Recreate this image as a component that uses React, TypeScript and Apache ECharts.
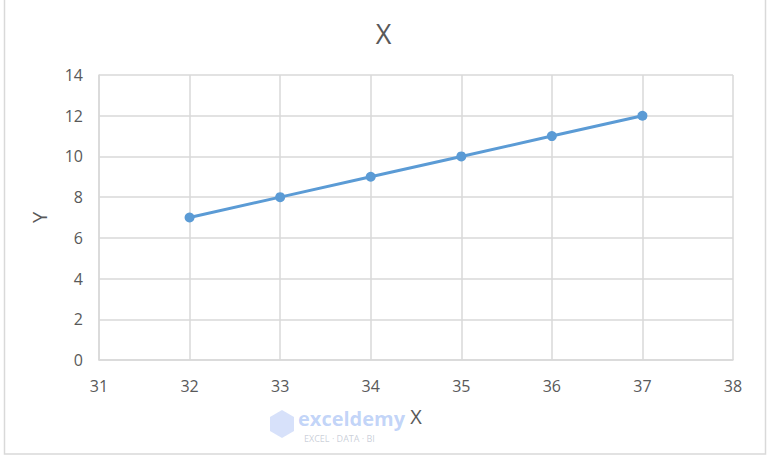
import { useEffect, useRef } from "react";
import * as echarts from "echarts";

const xValues = [32, 33, 34, 35, 36, 37];
const yValues = [7, 8, 9, 10, 11, 12];
const chartTitle = "X";
const xAxisName = "X";
const yAxisName = "Y";

const App = () => {
  const chartRef = useRef<HTMLDivElement>(null);

  useEffect(() => {
    if (!chartRef.current) return;
    const chart = echarts.init(chartRef.current, undefined, { renderer: "svg" });
    const font = "'Open Sans', 'Liberation Sans', sans-serif";

    const option = {
      animation: false,
      backgroundColor: "#ffffff",
      title: {
        text: chartTitle,
        left: "center",
        top: 15,
        textStyle: { color: "#595959", fontSize: 27, fontWeight: "normal", fontFamily: font },
      },
      grid: { left: 99, right: 34, top: 75, bottom: 97 },
      xAxis: {
        type: "value",
        min: 31,
        max: 38,
        interval: 1,
        name: xAxisName,
        nameLocation: "middle",
        nameGap: 46,
        nameTextStyle: { color: "#595959", fontSize: 20, fontFamily: font },
        axisLine: { show: true, lineStyle: { color: "#d9d9d9", width: 1.5 } },
        axisTick: { show: false },
        axisLabel: { color: "#595959", fontSize: 16, fontFamily: font, margin: 18 },
        splitLine: { show: true, lineStyle: { color: "#d9d9d9", width: 1.5 } },
      },
      yAxis: {
        type: "value",
        min: 0,
        max: 14,
        interval: 2,
        name: yAxisName,
        nameLocation: "middle",
        nameGap: 50,
        nameRotate: 90,
        nameTextStyle: { color: "#595959", fontSize: 20, fontFamily: font },
        axisLine: { show: true, lineStyle: { color: "#d9d9d9", width: 1.5 } },
        axisTick: { show: false },
        axisLabel: { color: "#595959", fontSize: 16, fontFamily: font, margin: 16 },
        splitLine: { show: true, lineStyle: { color: "#d9d9d9", width: 1.5 } },
      },
      series: [
        {
          type: "line",
          data: xValues.map((x, i) => [x, yValues[i]]),
          symbol: "circle",
          symbolSize: 10,
          lineStyle: { color: "#5b9bd5", width: 3 },
          itemStyle: { color: "#5b9bd5" },
        },
      ],
      graphic: [
        {
          type: "rect",
          shape: { x: 4.5, y: -2, width: 761, height: 456 },
          style: { fill: "none", stroke: "#d9d9d9", lineWidth: 1.5 },
          silent: true,
        },
        {
          type: "polygon",
          shape: { points: [[282, 410], [294, 417], [294, 431], [282, 438], [270, 431], [270, 417]] },
          style: { fill: "rgba(140,170,240,0.35)" },
          silent: true,
        },
        {
          type: "text",
          left: 298,
          top: 408,
          style: {
            text: "exceldemy",
            fill: "rgba(120,160,240,0.45)",
            font: "bold 20px 'Open Sans', sans-serif",
          },
          silent: true,
        },
        {
          type: "text",
          left: 304,
          top: 434,
          style: {
            text: "EXCEL · DATA · BI",
            fill: "rgba(150,160,180,0.5)",
            font: "9px 'Open Sans', sans-serif",
          },
          silent: true,
        },
      ],
    };

    chart.setOption(option);
    return () => chart.dispose();
  }, []);

  return (
    <div
      ref={chartRef}
      style={{ position: "absolute", left: 0, top: 0, width: "767px", height: "457px" }}
    />
  );
};

export default App;
